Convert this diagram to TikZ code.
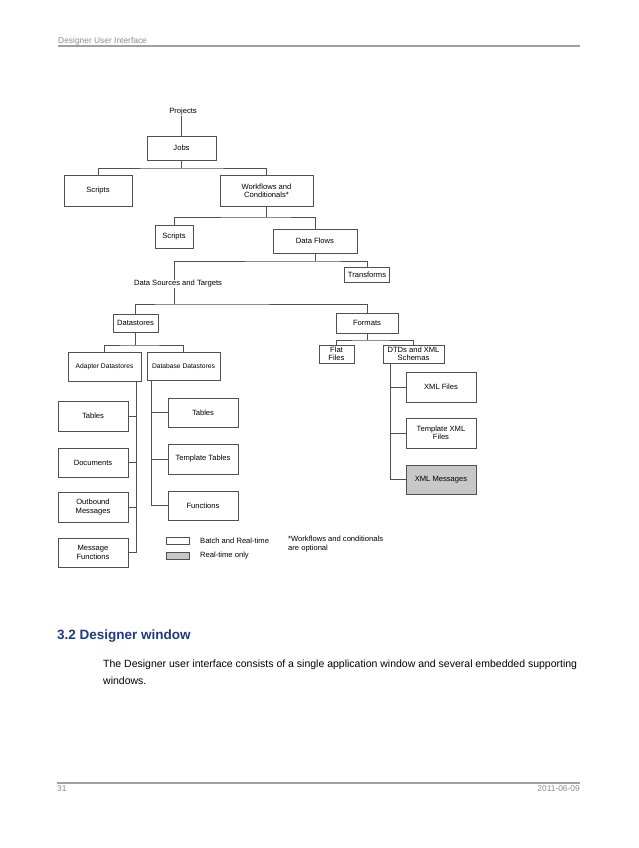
\documentclass[tikz,border=0pt]{standalone}
\usepackage{fontspec}
\setmainfont{Liberation Sans}
\usepackage{tikz}
\tikzset{>=latex}
\definecolor{linegray}{HTML}{505050}
\definecolor{pagegray}{HTML}{8C8C8C}
\definecolor{rulegray}{HTML}{A0A0A0}
\definecolor{fillgray}{HTML}{C8C8C8}
\definecolor{titleblue}{HTML}{1F3A80}
\tikzset{
  box/.style={draw=linegray, line width=0.9pt, inner sep=0pt, align=center,
    font=\fontsize{7.6}{8.3}\selectfont},
  small/.style={font=\fontsize{6.7}{8}\selectfont},
  size/.style 2 args={minimum width=#1pt, minimum height=#2pt},
  link/.style={draw=linegray, line width=0.9pt},
  lbl/.style={inner sep=0pt, align=left, font=\fontsize{7.6}{9}\selectfont},
  page/.style={inner sep=0pt, text=pagegray, font=\fontsize{8.4}{9}\selectfont},
}

\begin{document}
\begin{tikzpicture}[x=1pt, y=-1pt]
      \useasboundingbox (0,0) rectangle (638,848);
      \fill[white] (0,0) rectangle (638,848);
      % page header and footer
      \node (header) at (58,41) [page, anchor=west] {Designer User Interface};
      \draw[rulegray, line width=1.2pt] (58,46) -- (580,46);
      \draw[rulegray, line width=1.2pt] (57,783) -- (580,783);
      \node (pagenum) at (57,789) [page, anchor=west] {31};
      \node (date) at (580,789) [page, anchor=east] {2011-06-09};
      % tree
      \node (projects) at (183,112) [lbl] {Projects};
      \node (jobs) at (181.5,148) [box, size={69}{24}] {Jobs};
      \node (scriptsA) at (98,190.5) [box, size={68}{31}] {Scripts};
      \node (workflows) at (266.5,190.5) [box, size={93}{31}] {Workflows and\\Conditionals*};
      \node (scriptsB) at (174,236.5) [box, size={38}{23}] {Scripts};
      \node (dataflows) at (315,241) [box, size={84}{24}] {Data Flows};
      \node (transforms) at (367,275) [box, size={45}{15}] {Transforms};
      \node (sources) at (178,284) [lbl] {Data Sources and Targets};
      \node (datastores) at (135.5,323) [box, size={45}{18}] {Datastores};
      \node (formats) at (367,323) [box, size={62}{20}] {Formats};
      \node (adapter) at (104.5,366.5) [box, small, size={73}{29}] {Adapter Datastores};
      \node (database) at (183.5,366) [box, small, size={73}{28}] {Database Datastores};
      \node (flat) at (336.5,354) [box, size={35}{18}] {Flat\\Files};
      \node (dtds) at (413.5,354) [box, size={61}{18}] {DTDs and XML\\Schemas};
      \node (xmlfiles) at (441,387) [box, size={70}{30}] {XML Files};
      \node (templatexml) at (441,433) [box, size={70}{30}] {Template XML\\Files};
      \node (xmlmsg) at (441,479.5) [box, size={70}{29}, fill=fillgray] {XML Messages};
      \node (tablesA) at (93,416) [box, size={70}{30}] {Tables};
      \node (documents) at (93,462.5) [box, size={70}{29}] {Documents};
      \node (outbound) at (93,507) [box, size={70}{30}] {Outbound\\Messages};
      \node (msgfunc) at (93,552.5) [box, size={70}{29}] {Message\\Functions};
      \node (tablesB) at (203,412.5) [box, size={70}{29}] {Tables};
      \node (templatetables) at (203,459) [box, size={70}{30}] {Template Tables};
      \node (functions) at (203,505.5) [box, size={70}{29}] {Functions};
      % legend
      \node (keyboth) at (177.5,540.5) [box, size={23}{7}] {};
      \node (keyreal) at (177.5,555.5) [box, size={23}{7}, fill=fillgray] {};
      \node (keybothtext) at (200,540.5) [lbl, anchor=west] {Batch and Real-time};
      \node (keyrealtext) at (200,555.5) [lbl, anchor=west] {Real-time only};
      \node (note) at (288,536) [lbl, anchor=north west] {*Workflows and conditionals\\are optional};
      % connectors
      \coordinate (busJobs) at (181.5,168);
      \coordinate (busWf) at (266.5,217);
      \coordinate (busDf) at (315,261);
      \coordinate (busSrc) at (174,304);
      \coordinate (busDs) at (135.5,345);
      \coordinate (busFm) at (367,340);
      \coordinate (spineAd) at (136,0);
      \coordinate (spineDb) at (151,0);
      \coordinate (spineDtd) at (390,0);
      \draw[link] (projects.south -| jobs.north) -- (jobs);
      \draw[link] (jobs) -- (busJobs);
      \draw[link] (scriptsA) |- (busJobs) -| (workflows);
      \draw[link] (workflows) -- (busWf);
      \draw[link] (scriptsB) |- (busWf) -| (dataflows);
      \draw[link] (dataflows) -- (busDf);
      \draw[link] (transforms) |- (busDf) -| ([xshift=-4pt]sources.north);
      \draw[link] ([xshift=-4pt]sources.south) -- (busSrc);
      \draw[link] (datastores) |- (busSrc) -| (formats);
      \draw[link] (datastores) -- (busDs);
      \draw[link] (adapter) |- (busDs) -| (database);
      \draw[link] (formats) -- (busFm);
      \draw[link] (flat) |- (busFm) -| (dtds);
      \draw[link] (adapter.south -| spineAd) |- (msgfunc.east);
      \draw[link] (tablesA.east) -- (tablesA.east -| spineAd);
      \draw[link] (documents.east) -- (documents.east -| spineAd);
      \draw[link] (outbound.east) -- (outbound.east -| spineAd);
      \draw[link] (database.south -| spineDb) |- (functions.west);
      \draw[link] (tablesB.west) -- (tablesB.west -| spineDb);
      \draw[link] (templatetables.west) -- (templatetables.west -| spineDb);
      \draw[link] (dtds.south -| spineDtd) |- (xmlmsg.west);
      \draw[link] (xmlfiles.west) -- (xmlfiles.west -| spineDtd);
      \draw[link] (templatexml.west) -- (templatexml.west -| spineDtd);
      % section text
      \node (heading) at (57,636) [anchor=west, inner sep=0pt, text=titleblue,
        font=\fontsize{13.5}{15}\bfseries\selectfont] {3.2 Designer window};
      \node (body) at (103,672.5) [anchor=west, inner sep=0pt, align=left,
        font=\fontsize{10.5}{17}\selectfont] {The Designer user interface consists of a single application window and several embedded supporting\\windows.};
\end{tikzpicture}
\end{document}
